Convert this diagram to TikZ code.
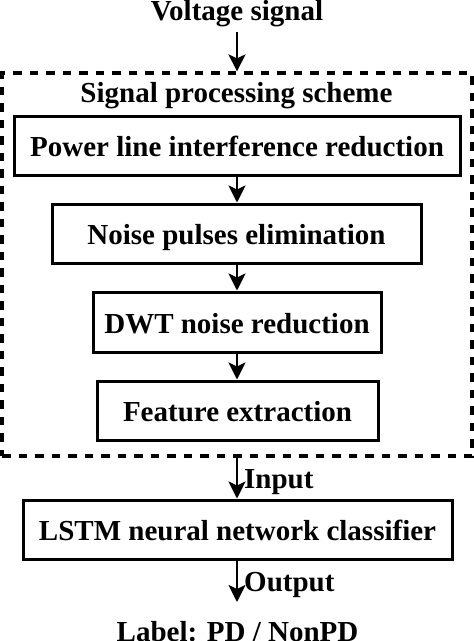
\documentclass[tikz,border=0pt]{standalone}
\usepackage{fontspec}
\setmainfont{Liberation Serif}
\usetikzlibrary{arrows.meta}
\begin{document}
\begin{tikzpicture}[x=1pt,y=-1pt,
  font=\fontsize{29}{34}\selectfont\bfseries,
  procbox/.style={draw, line width=3pt, inner sep=0pt, text height=22pt, text depth=0pt, anchor=center},
  schemebox/.style={draw, line width=3.2pt, dash pattern=on 8.5pt off 8pt, inner sep=0pt, minimum width=470pt, minimum height=383pt},
  flow/.style={line width=2.5pt, -{Stealth[length=17pt,width=17pt,inset=4pt]}},
  txt/.style={inner sep=0pt, anchor=base}
]
\useasboundingbox (0,0) rectangle (474,641);
\node[schemebox] (scheme) at (237,264.5) {};
\node[txt] (vin) at (237,20.5) {Voltage signal};
\coordinate (vstart) at (237,32);
\node[txt] (title) at (236.5,102) {Signal processing scheme};
\node[procbox, minimum width=446pt, minimum height=59pt] (b1) at (237,145.5) {Power line interference reduction};
\node[procbox, minimum width=369pt, minimum height=59pt] (b2) at (236.5,233.5) {Noise pulses elimination};
\node[procbox, minimum width=288pt, minimum height=60pt] (b3) at (237,322) {DWT noise reduction};
\node[procbox, minimum width=281pt, minimum height=59pt] (b4) at (237.5,410.5) {Feature extraction};
\node[procbox, minimum width=429pt, minimum height=59pt] (lstm) at (237.5,529.5) {LSTM neural network classifier};
\coordinate (outend) at (237,602);
\node[txt, anchor=base west] (inlab) at (244,488) {Input};
\node[txt, anchor=base west] (outlab) at (244,591.5) {Output};
\node[txt] (res) at (237.5,641) {Label: PD / NonPD};
\draw[flow] (vstart) -- (scheme.north);
\draw[flow] (b1.south -| 237,0) -- (b2.north -| 237,0);
\draw[flow] (b2.south -| 237,0) -- (b3.north -| 237,0);
\draw[flow] (b3.south -| 237,0) -- (b4.north -| 237,0);
\draw[flow] (scheme.south) -- (lstm.north -| 237,0);
\draw[flow] (lstm.south -| 237,0) -- (outend);
\end{tikzpicture}
\end{document}
